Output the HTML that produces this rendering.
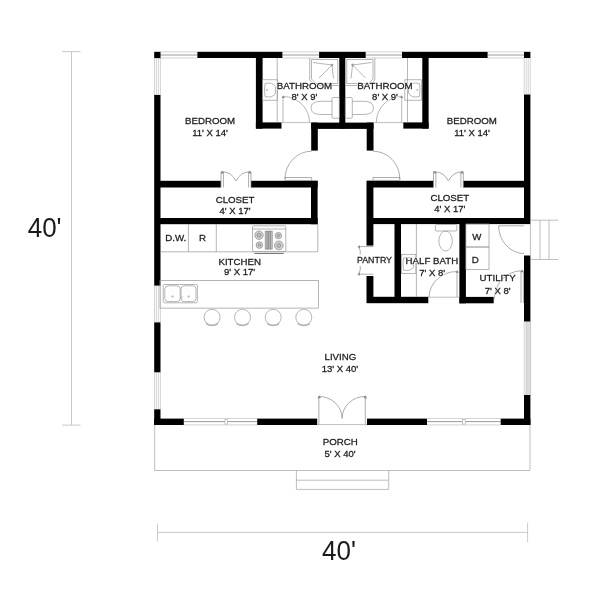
<!DOCTYPE html>
<html><head><meta charset="utf-8">
<style>
html,body{margin:0;padding:0;background:#fff;}
svg{display:block;}
text{font-family:"Liberation Sans",sans-serif;}
.w{fill:#000;}
.t{fill:none;stroke:#969696;stroke-width:0.7;}
.dr{fill:none;stroke:#8a8a8a;stroke-width:0.7;}
.g{fill:none;stroke:#a4a4a4;stroke-width:0.7;}
.l{font-size:9.7px;text-anchor:middle;}
.l .n{font-size:9.5px;}
.d{font-size:26px;fill:#1a1a1a;}
</style></head><body>
<svg width="607" height="594" viewBox="0 0 607 594" style="filter:grayscale(1)">
<rect width="607" height="594" fill="#fff"/>

<!-- dimension lines -->
<g stroke="#bcbcbc" stroke-width="0.8" fill="none">
<path d="M71.5 51.6V425.1 M62 51.6H80.5 M62 425.1H80.5"/>
<path d="M157.5 532.4H527.6 M157.5 523.5V541.3 M527.6 522.8V542"/>
</g>
<text class="d" transform="translate(27.7 236.8) scale(1 1.03)">40'</text>
<text class="d" transform="translate(322 560.2) scale(1 1.03)">40'</text>

<!-- windows -->
<g id="windows">
<rect x="526" y="321.4" width="4.7" height="74" fill="#dcdcdc"/>
<g stroke="#bdbdbd" stroke-width="0.65" fill="none">
<path d="M160 51.9H197.6 M160 58H197.6 M282.4 51.9H319.2 M282.4 58H319.2 M366 51.9H402.3 M366 58H402.3 M487.6 51.9H524 M487.6 58H524"/>
<path d="M183.8 418.5H257.2 M183.8 424.9H257.2 M427 418.5H500.7 M427 424.9H500.7"/>
<path d="M154.5 58V94.7 M156.4 58V94.7 M158.4 58V94.7 M160.4 58V94.7"/>
<path d="M154.5 285.6V322.4 M156.4 285.6V322.4 M158.4 285.6V322.4 M160.4 285.6V322.4"/>
<path d="M154.5 372.3V409.3 M156.4 372.3V409.3 M158.4 372.3V409.3 M160.4 372.3V409.3"/>
<path d="M524.2 58V94.5 M526.2 58V94.5 M528.2 58V94.5 M530.2 58V94.5"/>
<path d="M524.2 321.4V395.4 M526 321.4V395.4 M530.6 321.4V395.4"/>
</g>
<g stroke="#8e8e8e" stroke-width="0.9" fill="none">
<path d="M160 55H197.6 M282.4 55H319.2 M366 55H402.3 M487.6 55H524"/>
<path d="M183.8 421.6H257.2 M427 421.6H500.7"/>
</g>
<g stroke="#aaa" stroke-width="0.6" fill="#fff">
<rect x="225" y="419.3" width="2.6" height="4.8"/>
<rect x="462.6" y="419.3" width="2.6" height="4.8"/>
</g>
</g>

<!-- walls -->
<g class="w" id="walls">
<rect x="154.2" y="51.8" width="6.3" height="6.3"/>
<rect x="197.4" y="51.8" width="85" height="6.2"/>
<rect x="319.1" y="51.8" width="46.6" height="6.2"/>
<rect x="402" y="51.8" width="85.6" height="6.2"/>
<rect x="524" y="51.8" width="6.4" height="6.2"/>
<!-- left wall -->
<rect x="154.2" y="94.9" width="6.3" height="190.7"/>
<rect x="154.2" y="322.4" width="6.3" height="49.9"/>
<rect x="154.2" y="409.3" width="6.3" height="15.7"/>
<!-- right wall -->
<rect x="524" y="94.5" width="6.4" height="129.5"/>
<rect x="524" y="255.5" width="6.4" height="66"/>
<rect x="524" y="395" width="6.4" height="30"/>
<!-- bottom wall -->
<rect x="154.2" y="418.6" width="29.6" height="6.4"/>
<rect x="257.2" y="418.6" width="60" height="6.4"/>
<rect x="367" y="418.6" width="60" height="6.4"/>
<rect x="500.7" y="418.6" width="29.7" height="6.4"/>
<!-- bathrooms -->
<rect x="255.9" y="58" width="6.7" height="70.6"/>
<rect x="255.9" y="122.4" width="25.6" height="6.2"/>
<rect x="339.3" y="58" width="6" height="70.5"/>
<rect x="311.2" y="122.6" width="62.3" height="6.3"/>
<rect x="311.2" y="122.6" width="6.6" height="28"/>
<rect x="366.7" y="122.6" width="6.8" height="28"/>
<rect x="422.3" y="58" width="6.3" height="70.6"/>
<rect x="403.3" y="122.4" width="25.3" height="6.2"/>
<!-- left closet -->
<rect x="160" y="180.8" width="60.9" height="6.7"/>
<rect x="251" y="180.8" width="66.6" height="6.7"/>
<rect x="311" y="180.8" width="6.6" height="43.4"/>
<rect x="160" y="218" width="157.6" height="6.2"/>
<!-- right closet -->
<rect x="367" y="180.8" width="66.5" height="6.7"/>
<rect x="463.3" y="180.8" width="61" height="6.7"/>
<rect x="366.5" y="180.8" width="6.9" height="64.8"/>
<rect x="366.5" y="276" width="6.9" height="27"/>
<rect x="367" y="218" width="163" height="6.1"/>
<rect x="394.5" y="224" width="6.5" height="73"/>
<rect x="367" y="296.8" width="61.3" height="6.4"/>
<rect x="459.4" y="224" width="6.5" height="79.3"/>
<rect x="459.4" y="296.9" width="34.3" height="6.4"/>
</g>

<!-- porch -->
<g class="g">
<path d="M154.7 425V470.5H530V425"/>
<path d="M296.4 470.5V489.4H388.7V470.5 M296.4 480.2H388.7"/>
<path d="M317.4 424.6H367"/>
<path d="M281.6 122.6H311.2 M373.5 122.6H403.3 M530.4 224V255.5 M428.5 297.2H459.5"/>
<!-- stairs right -->
<path d="M530.4 220.2H558 M530.4 259.5H558 M540 220.2V259.5 M549 220.2V259.5"/>
</g>

<!-- kitchen -->
<g class="t">
<path d="M160 251.8H317.8V224.2"/>
<path d="M188.4 224.2V251.8 M216.3 224.2V251.8"/>
<rect x="160" y="280.4" width="158.6" height="27.7"/>
<!-- sink -->
<rect x="163.2" y="284.5" width="34.2" height="18.3" rx="1.5"/>
<rect x="164.8" y="285.8" width="15.4" height="15.8" rx="3.2"/>
<rect x="181" y="285.8" width="15" height="15.8" rx="3.2"/>
<circle cx="172.5" cy="296.5" r="0.7"/><circle cx="188.6" cy="296.5" r="0.7"/><path d="M180.6 299L182.6 296.5"/>
<!-- stove -->
<rect x="252.5" y="225.9" width="33.3" height="25.8" rx="1"/>
<path d="M252.5 229H285.8"/>
<path d="M254.5 253.5H283.7" stroke="#777" stroke-width="1"/>
<g fill="#d2d2d2" stroke="#8a8a8a">
<circle cx="259" cy="235.2" r="4.2"/><circle cx="259" cy="235.2" r="2" fill="#bbb"/>
<circle cx="259.4" cy="245.1" r="3.3"/><circle cx="259.4" cy="245.1" r="1.4" fill="#bbb"/>
<circle cx="278.4" cy="235.6" r="3.2"/><circle cx="278.4" cy="235.6" r="1.4" fill="#bbb"/>
<circle cx="278.8" cy="245.4" r="4.4"/><circle cx="278.8" cy="245.4" r="2" fill="#bbb"/>
</g>
<rect x="265.2" y="231.1" width="7" height="18" fill="#c8c8c8" stroke="#888"/>
<path d="M267 231.1V249.1 M268.7 231.1V249.1 M270.4 231.1V249.1" stroke="#777" stroke-width="0.8"/>
<!-- stools -->
<circle cx="212.1" cy="317.3" r="8"/><path d="M206.1 323.6Q212.1 327.4 218.1 323.6" stroke="#b4b4b4" stroke-width="1.7"/>
<circle cx="242.5" cy="317.3" r="8"/><path d="M236.5 323.6Q242.5 327.4 248.5 323.6" stroke="#b4b4b4" stroke-width="1.7"/>
<circle cx="273.2" cy="317.3" r="8"/><path d="M267.2 323.6Q273.2 327.4 279.2 323.6" stroke="#b4b4b4" stroke-width="1.7"/>
<circle cx="303.8" cy="317.3" r="8"/><path d="M297.8 323.6Q303.8 327.4 309.8 323.6" stroke="#b4b4b4" stroke-width="1.7"/>
</g>

<!-- bathrooms fixtures -->
<g class="t">
<!-- left bath -->
<path d="M277.2 58V122.4"/>
<rect x="262.6" y="79.8" width="15" height="20.4"/>
<path d="M265 83.5Q264 90 265 96.5Q273 98.5 275.5 93V87Q273 81.5 265 83.5Z"/><circle cx="267" cy="90" r="0.6"/>
<path d="M309.7 58V80L315 85.5H339.3"/>
<path d="M311.5 59.5V79L316 83.5H337.8V59.5Z"/>
<path d="M332 65L313 62.5 M332 65L319 78 M332 65L333.5 78.5"/><circle cx="332" cy="65" r="1" fill="#999"/>
<rect x="332" y="97.5" width="7.3" height="20.8" rx="1.2"/>
<path d="M332 101.3H321Q311 101.3 311 107.9Q311 114.5 321 114.5H332"/>
<path d="M283 96.5V122.4 M283 96.5A26.5 26 0 0 1 309.5 122.4"/>
<!-- right bath -->
<path d="M407.5 58V122.4"/>
<rect x="404.8" y="79.8" width="16.8" height="20.4"/>
<path d="M419.5 83.5Q420.5 90 419.5 96.5Q411 98.5 408.5 93V87Q411 81.5 419.5 83.5Z"/><circle cx="417.3" cy="90" r="0.6"/>
<path d="M374.8 58V80L369.5 85.5H345.3"/>
<path d="M373 59.5V79L368.5 83.5H346.8V59.5Z"/>
<path d="M352.6 65L371.5 62.5 M352.6 65L365.5 78 M352.6 65L351 78.5"/><circle cx="352.6" cy="65" r="1" fill="#999"/>
<rect x="345.3" y="97.5" width="7" height="20.8" rx="1.2"/>
<path d="M352.3 101.3H363.5Q373.5 101.3 373.5 107.9Q373.5 114.5 363.5 114.5H352.3"/>
<path d="M401.7 96.5V122.4 M401.7 96.5A25.5 26 0 0 0 376.3 122.4"/>
</g>

<!-- doors -->
<g class="dr">
<!-- bedroom doors -->
<path d="M285 177.5H311.7V180.4H285Z M285 178.8A26.7 27.6 0 0 1 311.7 151.2"/>
<path d="M399.8 177.5H373V180.4H399.8Z M399.8 178.8A26.8 27.6 0 0 0 373 151.2"/>
<!-- closet doors left -->
<path d="M221 187.5V171.8H223.4V187.5 M251 187.5V171.8H248.6V187.5 M222.5 171.8A15.5 15.5 0 0 1 235.8 180.8 M249.5 171.8A15.5 15.5 0 0 0 236.2 180.8"/>
<!-- closet doors right -->
<path d="M433.5 187.5V171.8H435.9V187.5 M463.3 187.5V171.8H460.9V187.5 M435 171.8A15.5 15.5 0 0 1 448.2 180.8 M461.8 171.8A15.5 15.5 0 0 0 448.6 180.8"/>
<!-- pantry doors -->
<path d="M358.8 246.6H373.4 M358.8 274.2H373.4 M358.8 246.6A14.5 14.5 0 0 1 360.3 254.5 M358.8 274.2A14.5 14.5 0 0 0 360.3 266"/>
<!-- half bath door -->
<path d="M457 271.5V297 M457 271.5A28 26 0 0 0 429 297"/>
<!-- utility bottom door -->
<path d="M521 303V271H523.4V303 M521.5 270.8A27.5 29.5 0 0 0 494 300.3"/>
<!-- utility exterior door -->
<path d="M498.6 225.8H524 M498.6 225.8A26 28 0 0 0 524 253.6"/>
<!-- front doors -->
<path d="M318.9 396.4V424.6 M365.3 396.4V424.6 M318.9 396.4A23.4 22 0 0 1 342.1 418.4 M365.3 396.4A23.4 22 0 0 0 342.1 418.4"/>
</g>

<!-- hinge marks -->
<g fill="#8a8a8a" stroke="none">
<path d="M317.4 398.2L319.2 395.2L321 398.2Z M363.6 398.2L365.4 395.2L367.2 398.2Z"/>
<path d="M220.6 173.6L222.2 170.8L223.8 173.6Z M248.2 173.6L249.8 170.8L251.4 173.6Z"/>
<path d="M433.1 173.6L434.7 170.8L436.3 173.6Z M460.5 173.6L462.1 170.8L463.7 173.6Z"/>
<path d="M281.6 98L283.2 95.2L284.8 98Z M400.1 98L401.7 95.2L403.3 98Z"/>
<path d="M455.6 272.8L457.2 270L458.8 272.8Z M520.6 272.2L522.2 269.6L523.8 272.2Z"/>
<path d="M360 245.2L357.4 246.8L360 248.4Z M360 272.6L357.4 274.2L360 275.8Z"/>
</g>
<!-- half bath fixtures, W/D -->
<g class="t">
<path d="M416.4 224V297"/>
<rect x="401.5" y="254.3" width="14.4" height="19.2"/>
<path d="M403.5 258Q402.5 264 403.5 270Q410 272 413.5 267V261Q410 256 403.5 258Z"/>
<rect x="435.4" y="224.5" width="21.4" height="6.5" rx="1"/>
<ellipse cx="445.6" cy="241" rx="6.7" ry="10.1"/>
<rect x="465.9" y="224" width="23.1" height="23"/>
<rect x="465.9" y="247" width="23.1" height="22.4"/>
</g>

<!-- labels -->
<defs><g id="lab" class="l">
<text x="210" y="124.3">BEDROOM</text><text class="n" x="210" y="135.7">11' X 14'</text>
<text x="471.9" y="123.9">BEDROOM</text><text class="n" x="472" y="135.8">11' X 14'</text>
<text x="304.4" y="89.1">BATHROOM</text><text class="n" x="304.4" y="100.4">8' X 9'</text>
<text x="385" y="89.1">BATHROOM</text><text class="n" x="385" y="100.4">8' X 9'</text>
<text x="235.1" y="202.9">CLOSET</text><text class="n" x="235" y="213.8">4' X 17'</text>
<text x="449.8" y="201.3">CLOSET</text><text class="n" x="449.8" y="212.3">4' X 17'</text>
<text x="175.7" y="241.2">D.W.</text><text x="202.5" y="241.2">R</text>
<text x="239.7" y="264.5">KITCHEN</text><text class="n" x="239.5" y="275.3">9' X 17'</text>
<text x="374.5" y="263.2" textLength="35" lengthAdjust="spacingAndGlyphs">PANTRY</text>
<text x="431.9" y="264.4" textLength="52.6" lengthAdjust="spacingAndGlyphs">HALF BATH</text><text class="n" x="432.2" y="276.4">7' X 8'</text>
<text x="476.9" y="239.7">W</text><text x="475.3" y="262.9">D</text>
<text x="497.6" y="281.4">UTILITY</text><text class="n" x="497.6" y="293.5">7' X 8'</text>
<text x="340.4" y="359.8">LIVING</text><text class="n" x="340" y="372.2">13' X 40'</text>
<text x="340.2" y="445.3">PORCH</text><text class="n" x="340" y="457.3">5' X 40'</text>
</g></defs>
<use href="#lab" style="fill:#fff;stroke:#fff;stroke-width:1.6;stroke-linejoin:round"/>
<use href="#lab" style="fill:#1c1c1c;stroke:#1c1c1c;stroke-width:0.28"/>
</svg>
</body></html>
